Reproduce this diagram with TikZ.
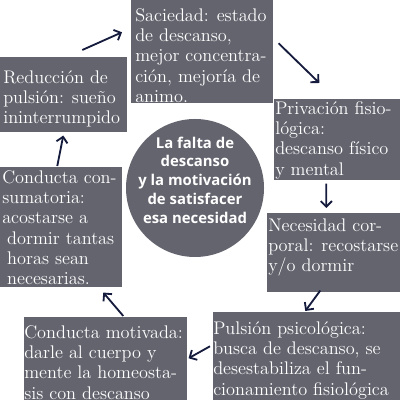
\documentclass[tikz,border=0pt]{standalone}
\usepackage{fontspec}
\usepackage{tikz}
\usetikzlibrary{arrows.meta}
\newfontfamily\hubfont{Open Sans}
\definecolor{boxgray}{RGB}{99,100,110}
\definecolor{arrownavy}{RGB}{20,27,60}
\tikzset{stagebox/.style={rectangle,fill=boxgray,draw=none,inner sep=0pt,anchor=north west},
 stagetext/.style={anchor=north west,inner sep=0pt,align=left,text=white,
   font=\fontsize{13}{14.4}\selectfont,execute at begin node=\strut},
 hub/.style={circle,fill=boxgray,draw=none,inner sep=0pt,minimum size=3.45cm},
 hubtext/.style={align=center,text=white,inner sep=0pt,
   font=\hubfont\bfseries\fontsize{10.6}{13.3}\selectfont},
 cyclearrow/.style={draw=arrownavy,line width=1.3pt,-{Straight Barb[length=1.4mm,width=2.8mm]}},
 }

\begin{document}
\begin{tikzpicture}
        \useasboundingbox (0,0) rectangle (10,10);
        \node[stagebox, minimum width=3.55cm, minimum height=2.575cm] (sac) at (3.275,10) {};
        \node[stagebox, minimum width=3.175cm, minimum height=1.875cm] (red) at (0,8.575) {};
        \node[stagebox, minimum width=3.15cm, minimum height=2.025cm] (pri) at (6.85,7.525) {};
        \node[stagebox, minimum width=3.05cm, minimum height=3cm] (cons) at (0,5.825) {};
        \node[stagebox, minimum width=3.325cm, minimum height=1.975cm] (nec) at (6.675,4.675) {};
        \node[stagebox, minimum width=4.075cm, minimum height=2.075cm] (mot) at (0.6,2.075) {};
        \node[stagebox, minimum width=4.675cm, minimum height=2.2cm] (pul) at (5.325,2.2) {};
        \node[hub] (hub) at (4.875,5.3) {};

        \node[stagetext] (sac-t) at (3.375,9.7925) {Saciedad: estado\\de descanso,\\mejor concentra-\\ción, mejoría de\\animo.};
        \node[stagetext] (red-t) at (0.075,8.2425) {Reducción de\\pulsión: sueño\\ininterrumpido};
        \node[stagetext] (pri-t) at (6.875,7.4675) {Privación fisio-\\lógica:\\descanso físico\\y mental};
        \node[stagetext] (cons-t) at (0.05,5.7425) {Conducta con-\\sumatoria:\\acostarse a\\\hspace*{3.5pt}dormir tantas\\\hspace*{3.5pt}horas sean\\\hspace*{3.5pt}necesarias.};
        \node[stagetext] (nec-t) at (6.7,4.5425) {Necesidad cor-\\poral: recostarse\\y/o dormir};
        \node[stagetext] (mot-t) at (0.6,1.8675) {Conducta motivada:\\darle al cuerpo y\\mente la homeosta-\\sis con descanso};
        \node[stagetext] (pul-t) at (5.325,1.9675) {Pulsión psicológica:\\busca de descanso, se\\desestabiliza el fun-\\cionamiento fisiológica};
        \node[hubtext] (hub-t) at ([yshift=0.2cm]hub) {La falta de\\descanso\\y la motivación\\de satisfacer\\esa necesidad};

        \draw[cyclearrow] ([shift={(0.4625,0.175)}]red.north) -- ([shift={(-0.225,0.4875)}]sac.west);
        \draw[cyclearrow] ([shift={(0.125,0.2125)}]sac.east) -- ([shift={(-0.45,0.4)}]pri.north);
        \draw[cyclearrow] ([shift={(-0.275,-0.075)}]pri.south) -- ([shift={(-0.1875,0.125)}]nec.north);
        \draw[cyclearrow] ([shift={(-0.3375,0.05)}]nec.south) -- ([shift={(-0.0375,0.025)}]pul.north);
        \draw[cyclearrow] ([shift={(-0.075,0.25)}]pul.west) -- ([shift={(0.025,0.0125)}]mot.east);
        \draw[cyclearrow] ([shift={(0.4375,0.025)}]mot.north) -- ([shift={(1.05,-0.125)}]cons.south);
        \draw[cyclearrow] ([shift={(-0.1,0.025)}]cons.north) -- ([shift={(-0.0125,-0.075)}]red.south);
    \end{tikzpicture}
\end{document}
